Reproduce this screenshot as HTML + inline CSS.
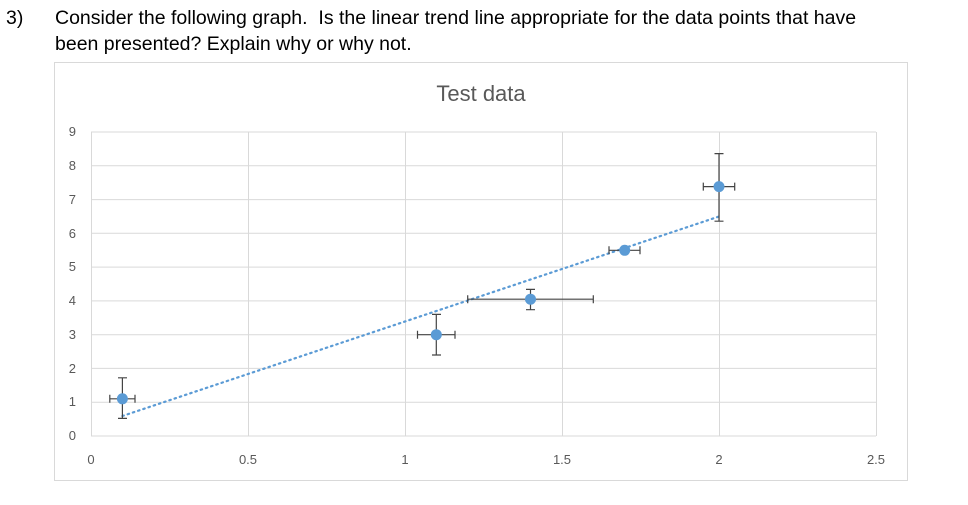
<!DOCTYPE html>
<html><head><style>
body{margin:0;background:#fff;width:968px;height:505px;overflow:hidden;font-family:"Liberation Sans",sans-serif;}
.q{position:absolute;font-size:19.5px;color:#000;white-space:nowrap;}
</style></head><body>
<div class="q" style="left:6px;top:7px">3)</div>
<div class="q" style="left:55px;top:7px">Consider the following graph.&nbsp; Is the linear trend line appropriate for the data points that have</div>
<div class="q" style="left:55px;top:33px">been presented? Explain why or why not.</div>
<svg style="position:absolute;left:0;top:0" width="968" height="505">
<rect x="54.5" y="62.5" width="853" height="418" fill="#fff" stroke="#d9d9d9"/>
<text x="481" y="101" text-anchor="middle" font-size="22" fill="#595959" font-family="Liberation Sans">Test data</text>
<g stroke="#d9d9d9" stroke-width="1">
<line x1="91" y1="132" x2="876" y2="132"/><line x1="91" y1="165.8" x2="876" y2="165.8"/><line x1="91" y1="199.6" x2="876" y2="199.6"/><line x1="91" y1="233.3" x2="876" y2="233.3"/><line x1="91" y1="267.1" x2="876" y2="267.1"/><line x1="91" y1="300.9" x2="876" y2="300.9"/><line x1="91" y1="334.7" x2="876" y2="334.7"/><line x1="91" y1="368.4" x2="876" y2="368.4"/><line x1="91" y1="402.2" x2="876" y2="402.2"/><line x1="91" y1="436" x2="876" y2="436"/>
<line x1="91.5" y1="132" x2="91.5" y2="436"/><line x1="248.5" y1="132" x2="248.5" y2="436"/><line x1="405.5" y1="132" x2="405.5" y2="436"/><line x1="562.5" y1="132" x2="562.5" y2="436"/><line x1="719.5" y1="132" x2="719.5" y2="436"/><line x1="876.5" y1="132" x2="876.5" y2="436"/>
</g>
<g font-size="13" fill="#595959" text-anchor="end" font-family="Liberation Sans">
<text x="76" y="440">0</text><text x="76" y="406">1</text><text x="76" y="373">2</text><text x="76" y="339">3</text><text x="76" y="305">4</text><text x="76" y="271">5</text><text x="76" y="238">6</text><text x="76" y="204">7</text><text x="76" y="170">8</text><text x="76" y="136">9</text>
</g>
<g font-size="13" fill="#595959" text-anchor="middle" font-family="Liberation Sans">
<text x="91" y="464">0</text><text x="248" y="464">0.5</text><text x="405" y="464">1</text><text x="562" y="464">1.5</text><text x="719" y="464">2</text><text x="876" y="464">2.5</text>
</g>
<line x1="122.4" y1="416" x2="719" y2="216.5" stroke="#5b9bd5" stroke-width="2.2" stroke-dasharray="1.5 4" stroke-linecap="round"/>
<g stroke="#444" stroke-width="1.2" fill="none">
<path d="M122.4 377.8V418.4M118 377.8h9M118 418.4h9M109.8 398.8H135M109.8 394.8v8M135 394.8v8"/>
<path d="M436.3 314.4V355M432 314.4h9M432 355h9M417.5 334.7H455M417.5 330.7v8M455 330.7v8"/>
<path d="M530.5 289.4V309.7M526 289.4h9M526 309.7h9M467.7 299.2H593.3M467.7 295.2v8M593.3 295.2v8"/>
<path d="M624.7 247.5V252.5M609 250.3H640M609 246.3v8M640 246.3v8"/>
<path d="M719 153.6V221.2M714.5 153.6h9M714.5 221.2h9M703.3 186.6H734.7M703.3 182.6v8M734.7 182.6v8"/>
</g>
<g fill="#5b9bd5">
<circle cx="122.4" cy="398.8" r="5.5"/><circle cx="436.3" cy="334.7" r="5.5"/><circle cx="530.5" cy="299.2" r="5.5"/><circle cx="624.7" cy="250.3" r="5.5"/><circle cx="719" cy="186.6" r="5.5"/>
</g>
</svg>
</body></html>
